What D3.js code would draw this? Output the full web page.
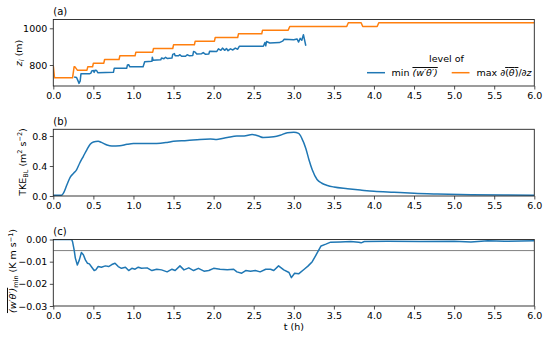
<!DOCTYPE html>
<html><head><meta charset="utf-8">
<script src="https://cdn.jsdelivr.net/npm/d3@7"></script>
<style>
body{margin:0;background:#fff}
text{font-family:"DejaVu Sans",sans-serif;fill:#000}
</style>
</head><body>
<svg id="chart" width="550" height="338"></svg>
<script>
// ---------------- data ----------------
const xTicks = [0,0.5,1,1.5,2,2.5,3,3.5,4,4.5,5,5.5,6];
const yTicksA = [800,1000];
const yTicksB = [0,0.4,0.8];
const yTicksC = [0,-0.01,-0.02,-0.03];

// (a) level of min flux (blue)
const levelFluxT = [0.26,0.29,0.31,0.32,0.335,0.345,0.45,0.47,0.48,0.50,0.51,0.52,0.54,0.555,0.75,0.76,0.915,0.925,0.94,0.955,1.12,1.14,1.23,1.235,1.245,1.34,1.35,1.38,1.40,1.42,1.48,1.49,1.51,1.52,1.56,1.58,1.6,1.65,1.67,1.7,1.74,1.75,1.77,1.79,1.85,1.87,1.9,1.94,1.95,2.04,2.06,2.09,2.11,2.14,2.16,2.18,2.21,2.24,2.27,2.3,2.32,2.62,2.64,2.65,2.66,2.7,2.82,2.86,2.88,3.0,3.04,3.06,3.08,3.10,3.12,3.13,3.15];
const levelFluxZ = [735,732,712,700,712,752,752,756,768,770,760,772,770,758,760,782,782,800,802,790,790,818,820,842,826,828,838,834,842,836,838,858,862,850,850,856,848,848,856,850,852,874,870,860,862,868,858,860,875,874,888,880,892,880,890,878,888,882,892,886,902,902,922,905,928,920,922,930,940,938,942,925,945,935,965,945,905];

// (a) level of max gradient (orange)
const levelGradT = [0,0.015,0.24,0.26,0.27,0.30,0.42,0.43,0.49,0.5,0.63,0.64,0.82,0.83,1.02,1.03,1.24,1.25,1.49,1.5,1.76,1.77,2.01,2.02,2.3,2.31,2.6,2.61,2.93,2.95,3.66,3.68,3.84,3.86,4.04,4.06,6.0];
const levelGradZ = [795,730,730,791,790,772,772,790,790,810,810,830,830,850,850,870,870,890,890,910,910,930,930,950,950,970,970,990,990,1010,1010,1030,1030,1010,1010,1030,1030];

// (b) TKE_BL
const tkeT = [0,0.1,0.125,0.17,0.21,0.25,0.29,0.33,0.375,0.42,0.46,0.5,0.56,0.6,0.67,0.73,0.83,0.92,1.0,1.17,1.29,1.42,1.5,1.67,1.83,1.96,2.04,2.17,2.29,2.38,2.48,2.56,2.62,2.75,2.83,2.92,3.0,3.06,3.1,3.15,3.19,3.23,3.29,3.35,3.42,3.5,3.67,3.83,4.0,4.25,4.5,4.79,5.21,5.63,6.0];
const tkeV = [0.01,0.01,0.035,0.15,0.25,0.30,0.35,0.44,0.53,0.62,0.69,0.72,0.73,0.715,0.68,0.667,0.67,0.69,0.70,0.70,0.70,0.715,0.73,0.74,0.755,0.76,0.755,0.78,0.80,0.80,0.82,0.80,0.78,0.79,0.81,0.845,0.85,0.835,0.77,0.635,0.48,0.35,0.22,0.17,0.14,0.12,0.098,0.08,0.062,0.049,0.036,0.027,0.018,0.013,0.01];

// (c) minimum heat flux
const fluxT = [0,0.23,0.24,0.26,0.275,0.3,0.325,0.35,0.375,0.4,0.425,0.45,0.48,0.51,0.53,0.56,0.6,0.65,0.69,0.73,0.77,0.81,0.85,0.9,0.94,0.98,1.02,1.06,1.1,1.17,1.23,1.29,1.35,1.42,1.48,1.52,1.58,1.63,1.69,1.75,1.81,1.88,1.94,2.0,2.08,2.17,2.25,2.29,2.35,2.4,2.46,2.52,2.58,2.65,2.71,2.75,2.81,2.875,2.94,2.97,3.01,3.06,3.13,3.18,3.23,3.29,3.34,3.4,3.46,3.58,3.71,3.81,3.84,3.88,4.17,4.58,5.0,5.21,5.42,5.63,6.0];
const fluxV = [0,0,-0.001,-0.0047,-0.0084,-0.0115,-0.0092,-0.0059,-0.0069,-0.0092,-0.0107,-0.011,-0.0125,-0.014,-0.0137,-0.0122,-0.0125,-0.0119,-0.0122,-0.0113,-0.0107,-0.0122,-0.013,-0.0125,-0.014,-0.013,-0.0134,-0.0125,-0.013,-0.0128,-0.014,-0.0134,-0.0137,-0.0146,-0.0134,-0.014,-0.0119,-0.0137,-0.0128,-0.014,-0.013,-0.0143,-0.014,-0.013,-0.0134,-0.0137,-0.0134,-0.0146,-0.0152,-0.014,-0.0143,-0.014,-0.0146,-0.0134,-0.0134,-0.014,-0.0119,-0.0137,-0.0149,-0.0172,-0.0152,-0.0155,-0.0134,-0.0119,-0.01,-0.0062,-0.0029,-0.0021,-0.0012,-0.0011,-0.0009,-0.0012,-0.0015,-0.0009,-0.0008,-0.0009,-0.0008,-0.0011,-0.0006,-0.0008,-0.0006];
const fluxThreshold = -0.005;

// ---------------- drawing ----------------
const BLUE = "#1f77b4", ORANGE = "#ff7f0e";
const svg = d3.select("#chart");
const left = 53.3, right = 534.3;
const x = d3.scaleLinear().domain([0,6]).range([left,right]);
const FS = 9.5;

function panel(id, top, bottom, domain, yTicks, fmt) {
  const y = d3.scaleLinear().domain(domain).range([bottom, top]);
  const g = svg.append("g");
  svg.append("clipPath").attr("id","clip"+id).append("rect")
    .attr("x",left).attr("y",top).attr("width",right-left).attr("height",bottom-top);
  const plot = g.append("g").attr("clip-path","url(#clip"+id+")");
  const xa = g.append("g").attr("transform",`translate(0,${bottom})`)
    .call(d3.axisBottom(x).tickValues(xTicks).tickFormat(d3.format(".1f")).tickSize(3.5).tickPadding(2.5));
  const ya = g.append("g").attr("transform",`translate(${left},0)`)
    .call(d3.axisLeft(y).tickValues(yTicks).tickFormat(fmt).tickSize(3.5).tickPadding(2.5));
  [xa,ya].forEach(a=>{
    a.select(".domain").remove();
    a.selectAll("text").attr("font-size",FS).attr("font-family","DejaVu Sans").attr("fill","#000");
    a.selectAll("line").attr("stroke","#222").attr("stroke-width",0.8);
  });
  return {g, plot, y, top, bottom};
}
function frame(p){
  p.g.append("rect").attr("x",left).attr("y",p.top).attr("width",right-left).attr("height",p.bottom-p.top)
    .attr("fill","none").attr("stroke","#222").attr("stroke-width",0.9);
}
function drawLine(p, ts, vs, color, curve){
  const data = ts.map((t,i)=>[t,vs[i]]);
  p.plot.append("path").datum(data)
    .attr("fill","none").attr("stroke",color).attr("stroke-width",1.5).attr("stroke-linejoin","round")
    .attr("d", d3.line().x(d=>x(d[0])).y(d=>p.y(d[1])).curve(curve||d3.curveLinear));
}
const minusFmt = f => (d => d3.format(f)(d).replace("-", "\u2212"));

// (a)
const pa = panel("a", 19.5, 86, [685.6,1048], yTicksA, d3.format("d"));
drawLine(pa, levelFluxT, levelFluxZ, BLUE);
drawLine(pa, levelGradT, levelGradZ, ORANGE);
frame(pa);

// (b)
const pb = panel("b", 129.3, 196, [0,0.89], yTicksB, d3.format(".1f"));
drawLine(pb, tkeT, tkeV, BLUE, d3.curveMonotoneX);
frame(pb);

// (c)
const pc = panel("c", 239.5, 306, [-0.03,0], yTicksC, minusFmt(".2f"));
pc.plot.append("line").attr("x1",left).attr("x2",right)
  .attr("y1",pc.y(fluxThreshold)).attr("y2",pc.y(fluxThreshold))
  .attr("stroke","#808080").attr("stroke-width",1);
drawLine(pc, fluxT, fluxV, BLUE);
frame(pc);

// panel labels
[["(a)",15.2],["(b)",125.2],["(c)",235.2]].forEach(([s,yy])=>{
  svg.append("text").attr("x",left).attr("y",yy).attr("font-size",10).text(s);
});

// x-axis title
svg.append("text").attr("x",(left+right)/2).attr("y",330).attr("text-anchor","middle")
  .attr("font-size",FS).text("t (h)");

// y labels
function ylabel(cx, cy, parts){
  const t = svg.append("text").attr("transform",`translate(${cx},${cy}) rotate(-90)`)
    .attr("text-anchor","middle").attr("font-size",FS);
  parts.forEach(p=>{
    const ts = t.append("tspan").text(p.s);
    if(p.it) ts.attr("font-style","italic");
    if(p.dy) ts.attr("dy",p.dy);
    if(p.fs) ts.attr("font-size",p.fs);
    if(p.ol) ts.style("text-decoration","overline");
  });
}
ylabel(21.5, 53, [{s:"z",it:1},{s:"i",it:1,fs:6.8,dy:2},{s:" (m)",dy:-2}]);
ylabel(25.5, 162, [{s:"TKE"},{s:"BL",fs:6.5,dy:2},{s:" (m",dy:-2},{s:"2",fs:6.5,dy:-3.5},{s:" s",dy:3.5},{s:"\u22122",fs:6.5,dy:-3.5},{s:")",dy:3.5}]);
ylabel(16, 271, [{s:"(w\u2032\u03b8\u2032)",it:1,ol:1},{s:"min",fs:6.5,dy:2},{s:" (K m s",dy:-2},{s:"\u22121",fs:6.5,dy:-3.5},{s:")",dy:3.5}]);

// legend
const lg = svg.append("g");
lg.append("text").attr("x",446.5).attr("y",61.5).attr("text-anchor","middle").attr("font-size",FS).text("level of");
lg.append("line").attr("x1",367).attr("x2",385).attr("y1",72.7).attr("y2",72.7).attr("stroke",BLUE).attr("stroke-width",1.5);
const t1 = lg.append("text").attr("x",391.5).attr("y",76).attr("font-size",FS);
t1.append("tspan").text("min ");
t1.append("tspan").attr("font-style","italic").style("text-decoration","overline").text("(w\u2032\u03b8\u2032)");
lg.append("line").attr("x1",451.7).attr("x2",469.5).attr("y1",72.7).attr("y2",72.7).attr("stroke",ORANGE).attr("stroke-width",1.5);
const t2 = lg.append("text").attr("x",476.5).attr("y",76).attr("font-size",FS);
t2.append("tspan").text("max \u2202");
t2.append("tspan").style("text-decoration","overline").text("(");
t2.append("tspan").attr("font-style","italic").style("text-decoration","overline").text("\u03b8");
t2.append("tspan").style("text-decoration","overline").text(")");
t2.append("tspan").text("/\u2202");
t2.append("tspan").attr("font-style","italic").text("z");
</script>
</body></html>
